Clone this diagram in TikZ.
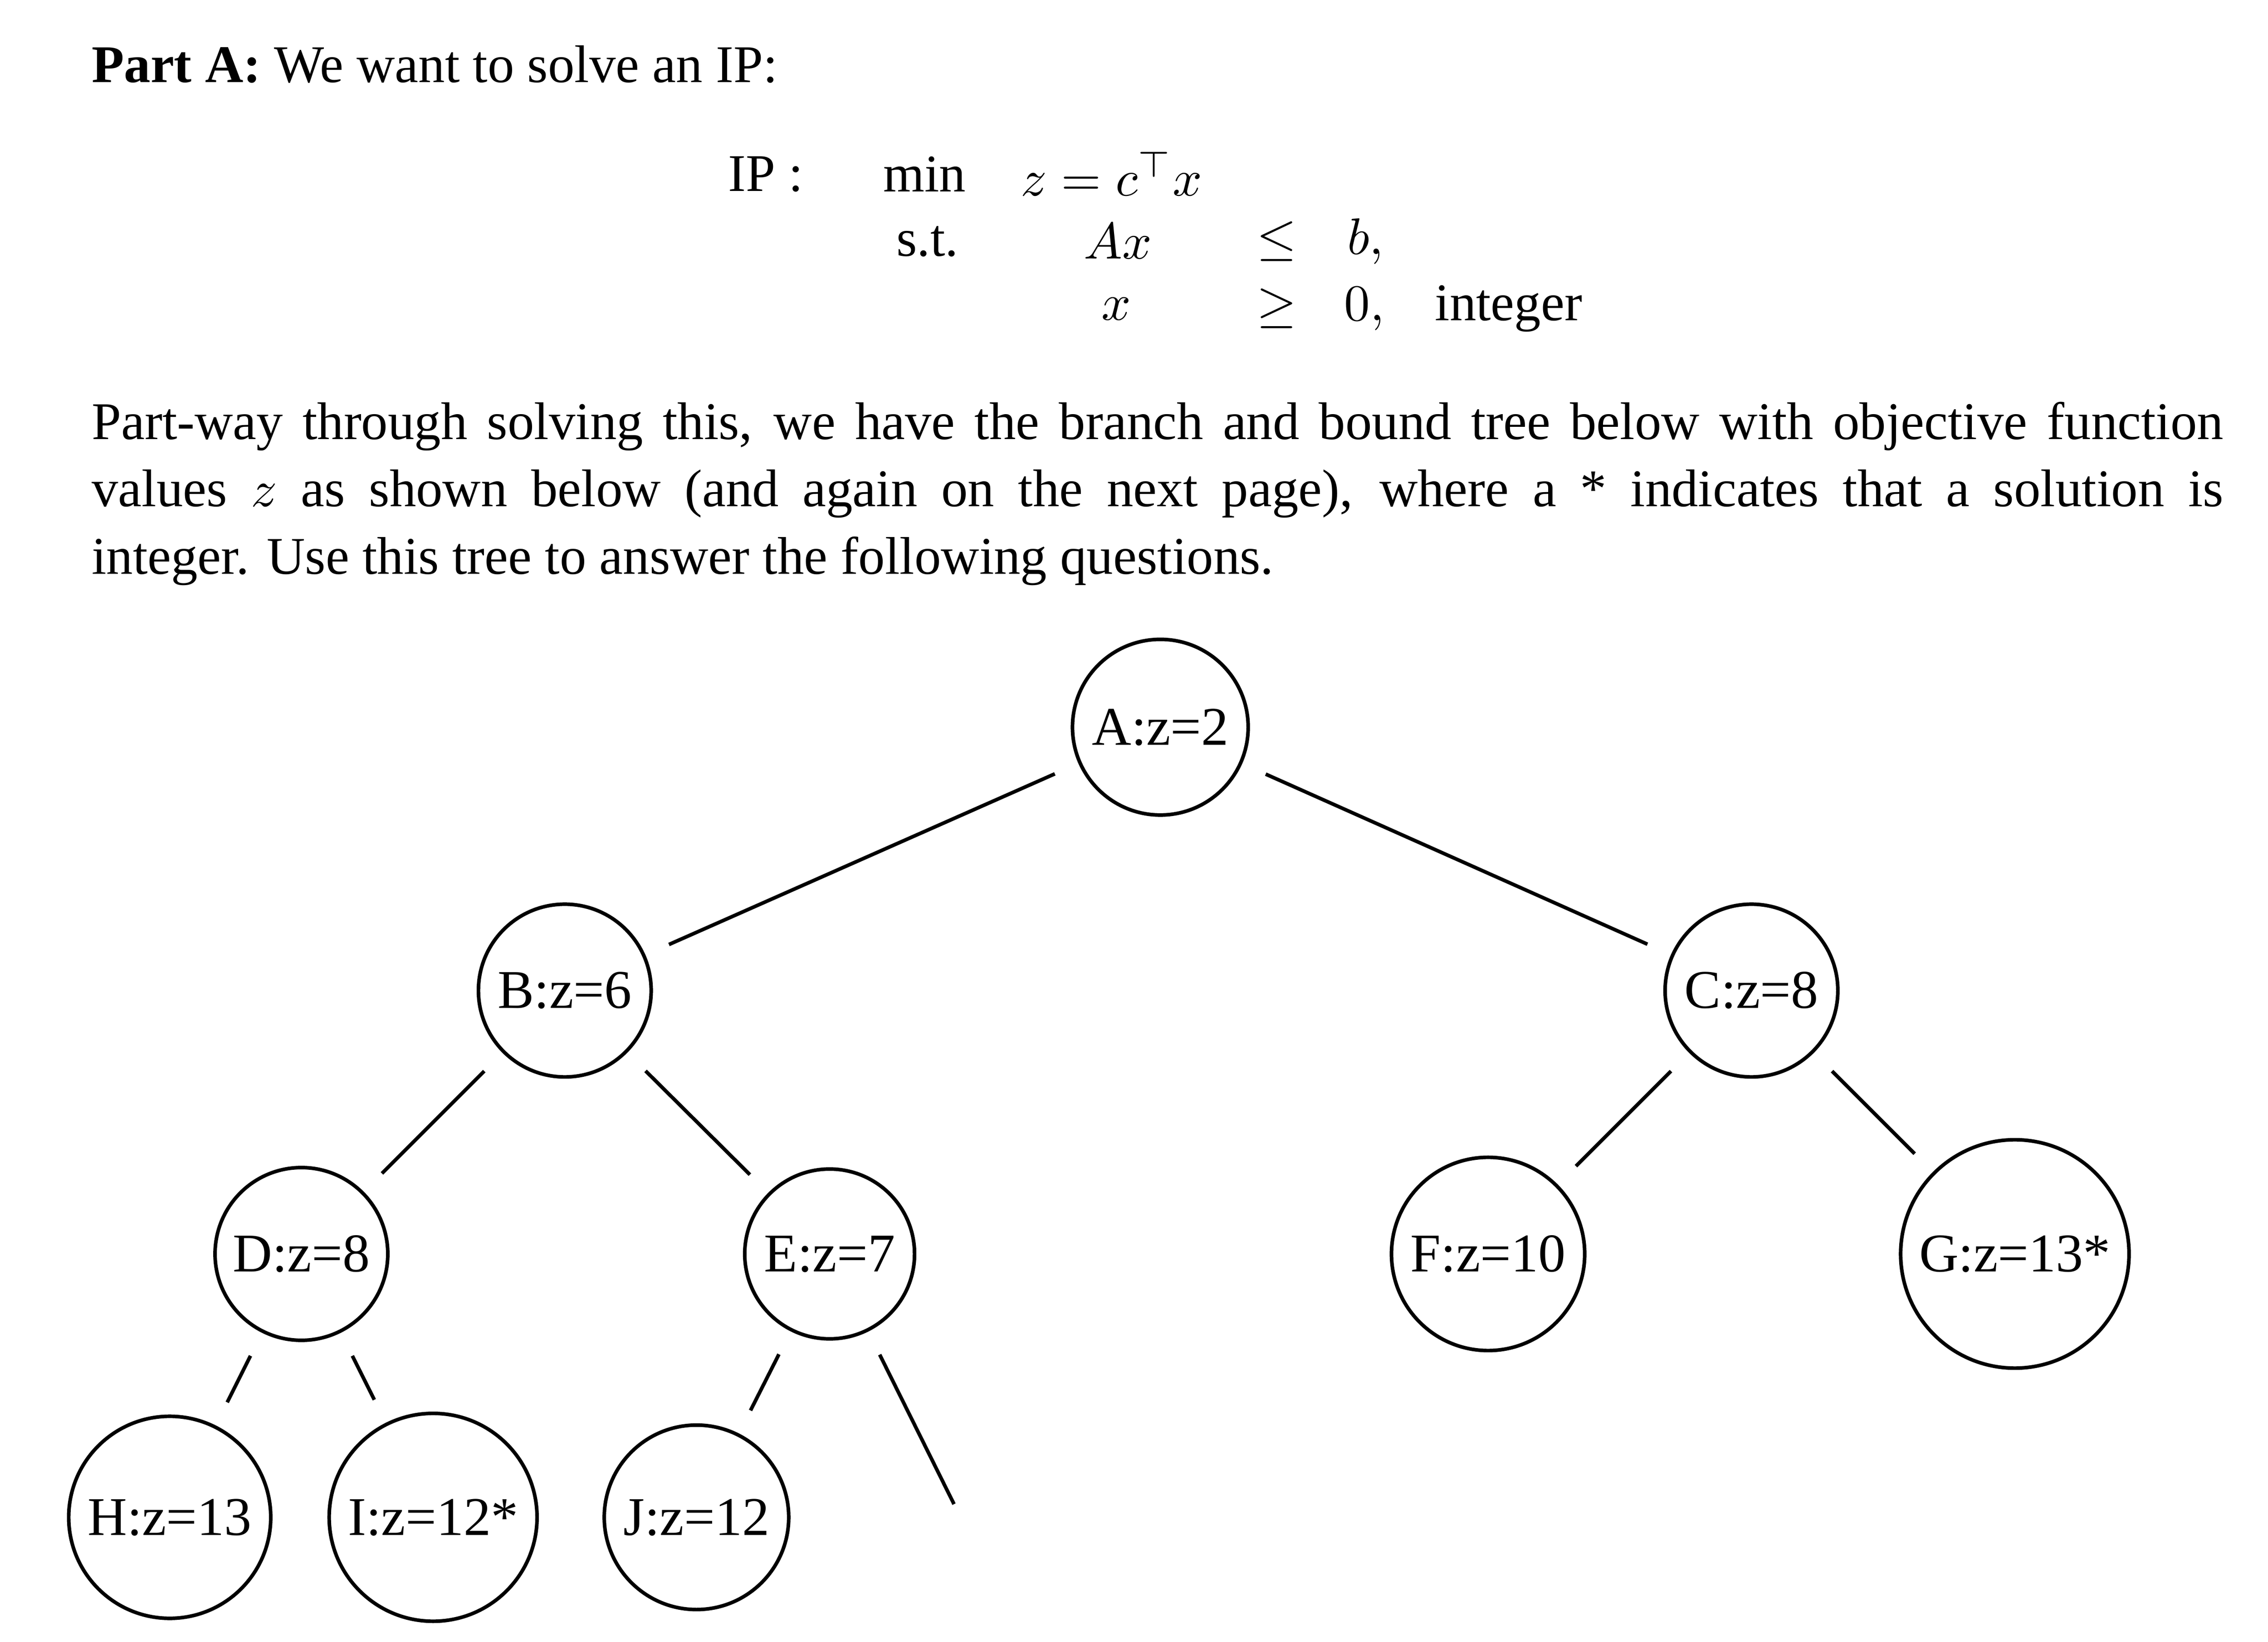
\documentclass[tikz,border=0pt]{standalone}
\usepackage{amssymb}
\usepackage{fontspec}
\setmainfont{Liberation Serif}
\begin{document}
\begin{tikzpicture}[x=0.01cm,y=-0.01cm,
  txt/.style={inner sep=0pt,font=\fontsize{10.3}{13.1}\selectfont},
  bb/.style={circle,draw,line width=0.7pt,inner sep=0pt,font=\fontsize{10.6}{12}\selectfont},
  edge/.style={line width=0.7pt,shorten <=5pt,shorten >=5pt}]
\useasboundingbox (0,0) rectangle (1550,1122);
\node[txt,anchor=west] (pa) at (62,44) {\textbf{Part A:} We want to solve an IP:};
\node[txt,anchor=west] (ip) at (497,119) {IP :};
\node[txt,anchor=west] (min) at (603,119) {min};
\node[txt,anchor=west] (obj) at (697,119) {$z=c^{\top}x$};
\node[txt,anchor=west] (st) at (612,165) {s.t.};
\node[txt,anchor=west] (ax) at (740,165) {$Ax$};
\node[txt,anchor=west] (le) at (858,165) {$\leq$};
\node[txt,anchor=west] (b) at (920,165) {$b,$};
\node[txt,anchor=west] (x) at (752,211) {$x$};
\node[txt,anchor=west] (ge) at (858,211) {$\geq$};
\node[txt,anchor=west] (z0) at (918,211) {$0,$};
\node[txt,anchor=west] (int) at (980,211) {integer};
\node[txt,anchor=north west,text width=14.56cm,align=justify] (par) at (62,274)
{Part-way through solving this, we have the branch and bound tree below with objective function\linebreak values $z$ as shown below (and again on the next page), where a * indicates that a solution is\linebreak integer. Use this tree to answer the following questions.};
\node[bb,minimum size=1.2cm] (A) at (793,497) {A:z=2};
\node[bb,minimum size=1.18cm] (B) at (386,677) {B:z=6};
\node[bb,minimum size=1.18cm] (C) at (1197,677) {C:z=8};
\node[bb,minimum size=1.18cm] (D) at (206,857) {D:z=8};
\node[bb,minimum size=1.16cm] (E) at (567,857) {E:z=7};
\node[bb,minimum size=1.32cm] (F) at (1017,857) {F:z=10};
\node[bb,minimum size=1.56cm] (G) at (1377,857) {G:z=13*};
\node[bb,minimum size=1.38cm] (H) at (116,1037) {H:z=13};
\node[bb,minimum size=1.42cm] (I) at (296,1037) {I:z=12*};
\node[bb,minimum size=1.26cm] (J) at (476,1037) {J:z=12};
\coordinate (K) at (652,1028);
\draw[edge] (A) -- (B);
\draw[edge] (A) -- (C);
\draw[edge] (B) -- (D);
\draw[edge] (B) -- (E);
\draw[edge] (C) -- (F);
\draw[edge] (C) -- (G);
\draw[edge] (D) -- (H);
\draw[edge] (D) -- (I);
\draw[edge] (E) -- (J);
\draw[line width=0.7pt,shorten <=5pt] (E) -- (K);
\end{tikzpicture}
\end{document}
